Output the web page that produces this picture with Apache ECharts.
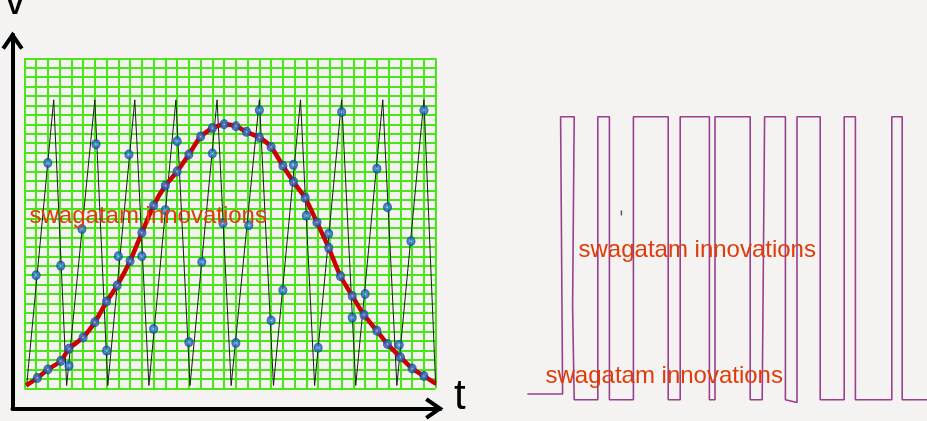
<!DOCTYPE html>
<html><head><meta charset="utf-8">
<script src="https://cdn.jsdelivr.net/npm/echarts@6/dist/echarts.min.js"></script>
<style>html,body{margin:0;padding:0;background:#f4f3f2;}#c{width:927px;height:421px;}</style>
</head><body><div id="c"></div>
<script>
// ---- Left panel (grid units 0..35) ----
// carrier (triangle) wave vertices
const carrierTroughX = [0.2, 3.6, 7.1, 10.6, 14.1, 17.6, 21.2, 24.7, 28.2, 31.7, 35.0];
const carrierPeakX = [2.5, 6.0, 9.4, 12.9, 16.4, 20.0, 23.5, 27.0, 30.5, 34.0];
const carrierLow = 0.3;
const carrierHigh = 30.6;
// modulating curve (sampled points, blue dots on the red curve)
const curveStart = [0.15, 0.3];
const curveEnd = [35.0, 0.5];
const curveX = [1.1, 2.0, 3.1, 3.8, 5.0, 6.0, 7.0, 7.9, 9.0, 10.0, 11.0, 12.0, 13.0, 14.0, 15.0, 16.0, 17.0, 18.0, 18.9, 20.0, 21.0, 22.0, 22.9, 23.9, 24.9, 25.9, 26.9, 27.9, 28.9, 30.0, 30.9, 32.0, 33.0, 34.0];
const curveY = [1.1, 2.0, 2.9, 4.2, 5.4, 7.0, 9.2, 10.9, 13.5, 16.5, 19.4, 21.5, 23.0, 24.8, 26.7, 27.6, 28.0, 27.8, 27.2, 26.6, 25.6, 23.6, 21.9, 20.2, 17.6, 14.9, 11.9, 9.8, 7.8, 6.1, 4.7, 3.3, 2.1, 1.3];
// sample dots on the carrier
const dotX = [1.0, 2.0, 3.1, 3.8, 4.9, 6.1, 7.0, 8.0, 8.9, 10.0, 11.0, 12.0, 13.0, 14.0, 15.1, 16.0, 16.9, 18.0, 19.1, 20.0, 21.0, 22.0, 22.9, 24.0, 25.0, 25.9, 27.0, 27.9, 29.0, 30.0, 30.9, 31.9, 32.9, 34.0];
const dotY = [12.0, 23.9, 13.0, 2.4, 16.9, 25.9, 4.0, 14.0, 24.8, 14.0, 6.3, 18.9, 26.2, 4.9, 13.4, 24.9, 17.5, 4.8, 17.3, 29.5, 7.2, 10.4, 23.7, 18.3, 4.3, 16.4, 29.3, 7.5, 10.0, 23.3, 19.2, 4.6, 15.6, 29.5];

// ---- Right panel: PWM output (time 0..100, level 0..1) ----
const pwmT = [0.1, 8.9, 8.4, 11.8, 11.4, 11.8, 17.7, 17.7, 20.6, 20.6, 26.6, 26.6, 35.3, 35.3, 38.3, 38.3, 45.6, 45.6, 47.0, 47.0, 55.8, 55.8, 58.8, 59.4, 64.6, 64.6, 67.5, 67.5, 73.3, 73.3, 79.3, 79.3, 82.1, 82.1, 91.2, 91.2, 93.8, 93.8, 100];
const pwmV = [0.02, 0.02, 1, 1, 0.33, 0, 0, 1, 1, 0, 0, 1, 1, 0, 0, 1, 1, 0, 0, 1, 1, 0, 0, 1, 1, 0, -0.01, 1, 1, 0, 0, 1, 1, 0, 0, 1, 1, 0, 0];
const speckT = [23.6];
const speckV = [0.66];

const watermark = 'swagatam innovations';
const axisNames = ['v', 't'];

// ---- build ----
const carrierData = [];
for (let i = 0; i < carrierTroughX.length; i++) {
  carrierData.push([carrierTroughX[i], carrierLow]);
  if (i < carrierPeakX.length) carrierData.push([carrierPeakX[i], carrierHigh]);
}
const curveData = [curveStart].concat(curveX.map((x, i) => [x, curveY[i]]), [curveEnd]);
const dotData = curveX.map((x, i) => [x, curveY[i]]).concat(dotX.map((x, i) => [x, dotY[i]]));
const pwmData = pwmT.map((t, i) => [t, pwmV[i]]);
const speckData = speckT.map((t, i) => [t, speckV[i]]);

const CHEV = 'path://M11,0 L22,16 L18.7,18.3 L11,7.1 L3.3,18.3 L0,16 Z';
const hidden = {axisLine:{show:false}, axisTick:{show:false}, axisLabel:{show:false}, splitLine:{show:false}};
const green = {show:true, lineStyle:{color:'#4ce51a', width:2}};
const frameLine = {show:true, onZero:false, lineStyle:{color:'#000', width:4}, symbol:['none', CHEV], symbolSize:[22,18.3], symbolOffset:[0,-6]};
const font = '"Liberation Sans", Arial, sans-serif';
const textColor = '#e03c0a';

const chart = echarts.init(document.getElementById('c'));
chart.setOption({
  backgroundColor: '#f4f3f2',
  animation: false,
  grid: [
    {left:24.33, top:58.33, width:411.33, height:330},
    {left:12.5, top:34.7, width:427.8, height:373.8},
    {left:527, top:116.7, width:400, height:283}
  ],
  xAxis: [
    {gridIndex:0, type:'value', min:0, max:35, interval:1, axisLine:{show:false}, axisTick:{show:false}, axisLabel:{show:false}, splitLine:green},
    {gridIndex:1, type:'value', min:0, max:1, axisLine:frameLine, axisTick:{show:false}, axisLabel:{show:false}, splitLine:{show:false}},
    Object.assign({gridIndex:2, type:'value', min:0, max:100}, hidden)
  ],
  yAxis: [
    {gridIndex:0, type:'value', min:0, max:35, interval:1, axisLine:{show:false}, axisTick:{show:false}, axisLabel:{show:false}, splitLine:green},
    {gridIndex:1, type:'value', min:0, max:1, axisLine:frameLine, axisTick:{show:false}, axisLabel:{show:false}, splitLine:{show:false}},
    Object.assign({gridIndex:2, type:'value', min:0, max:1}, hidden)
  ],
  series: [
    {type:'line', xAxisIndex:0, yAxisIndex:0, data:carrierData, symbol:'none', clip:false,
     lineStyle:{color:'#1a1a1a', width:1}, z:2},
    {type:'line', xAxisIndex:0, yAxisIndex:0, data:curveData, symbol:'none', smooth:0.2, clip:false,
     lineStyle:{color:'#cc0000', width:4.5}, z:3},
    {type:'scatter', xAxisIndex:0, yAxisIndex:0, data:dotData, symbol:'circle', symbolSize:[9,10],
     itemStyle:{color:new echarts.graphic.RadialGradient(0.5,0.5,0.55,[
       {offset:0,color:'#e6f3ff'},{offset:0.2,color:'#4a95e2'},{offset:0.6,color:'#1c5fbb'},{offset:1,color:'#0a3a85'}])}, z:4},
    {type:'line', xAxisIndex:2, yAxisIndex:2, data:pwmData, symbol:'none', clip:false,
     lineStyle:{color:'#9a3f8c', width:1.6}, z:2},
    {type:'scatter', xAxisIndex:2, yAxisIndex:2, data:speckData, symbol:'rect', symbolSize:[1.5,5],
     itemStyle:{color:'#333'}, z:2}
  ],
  graphic: [
    {type:'text', x:15, y:2.4, z:10, style:{text:axisNames[0], fill:'#000', fontSize:42, fontFamily:font, align:'center', verticalAlign:'middle'}},
    {type:'text', x:454, y:397.1, z:10, style:{text:axisNames[1], fill:'#000', fontSize:42, fontFamily:font, align:'left', verticalAlign:'middle'}},
    {type:'text', x:29.5, y:216.7, z:10, style:{text:watermark, fill:textColor, fontSize:24, fontFamily:font, align:'left', verticalAlign:'middle'}},
    {type:'text', x:578.5, y:250.7, z:10, style:{text:watermark, fill:textColor, fontSize:24, fontFamily:font, align:'left', verticalAlign:'middle'}},
    {type:'text', x:545.5, y:376.7, z:10, style:{text:watermark, fill:textColor, fontSize:24, fontFamily:font, align:'left', verticalAlign:'middle'}}
  ]
});
</script>
</body></html>
